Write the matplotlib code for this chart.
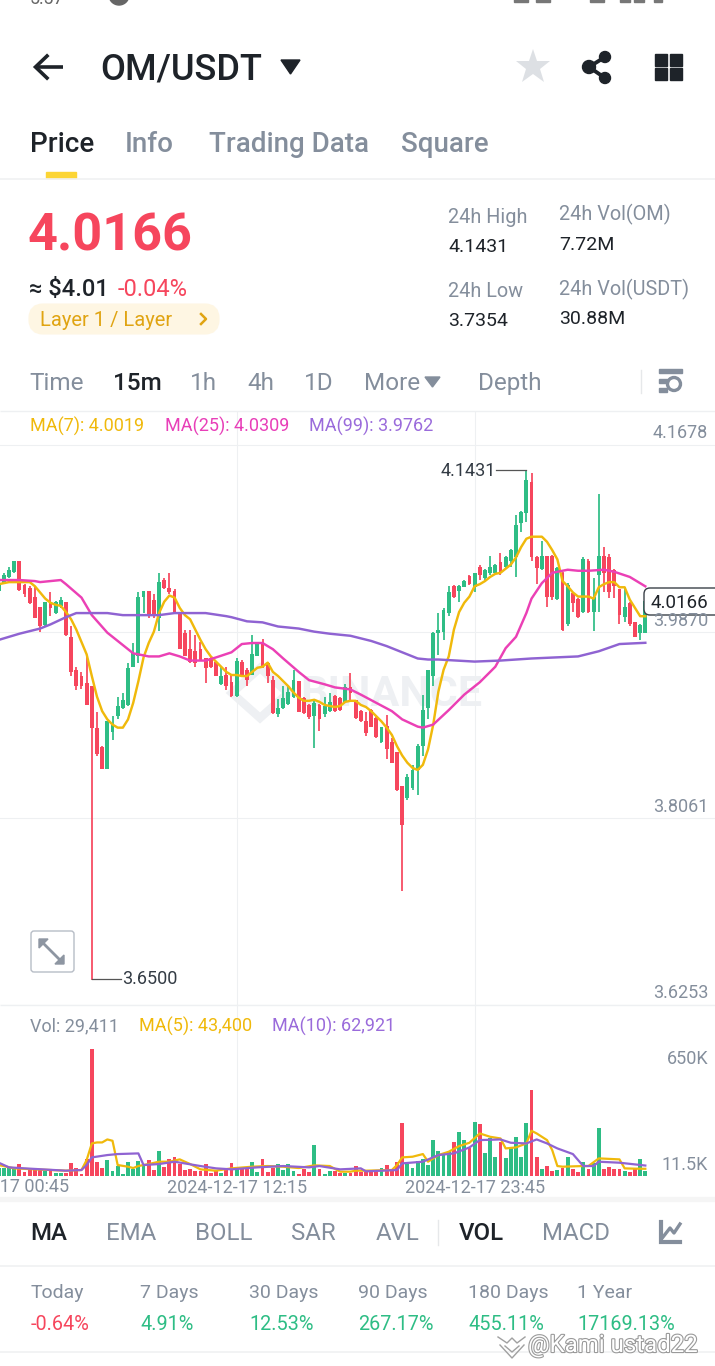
import matplotlib
matplotlib.use("Agg")
import matplotlib.pyplot as plt
import matplotlib.patheffects as pe
from matplotlib.patches import FancyBboxPatch, Rectangle, Polygon, Circle

plt.rcParams['font.family'] = ['Roboto', 'DejaVu Sans']

RED, GREEN = '#F6465D', '#2EBD85'
YEL, PINK, PUR = '#F0B90B', '#EB40B5', '#8F63D2'
DARK, GRAY = '#1E2329', '#848E9C'

highs = [4.035,4.044,4.050,4.055,4.055,4.033,4.031,4.030,4.011,4.016,4.025,4.017,4.021,4.016,3.992,3.953,3.948,3.963,3.934,3.909,
         3.876,3.900,3.905,3.924,3.928,3.957,3.976,4.025,4.026,4.026,4.023,4.044,4.039,4.044,4.028,4.005,3.989,3.989,3.984,3.977,
         3.961,3.963,3.959,3.953,3.953,3.945,3.961,3.960,3.952,3.984,3.976,3.980,3.958,3.944,3.922,3.934,3.935,3.950,3.939,3.924,
         3.917,3.922,3.917,3.924,3.928,3.926,3.924,3.936,3.947,3.921,3.911,3.909,3.912,3.904,3.895,3.906,3.884,3.870,3.837,3.849,
         3.858,3.878,3.926,3.950,3.987,4.005,4.010,4.031,4.032,4.032,4.037,4.042,4.044,4.052,4.048,4.060,4.053,4.063,4.060,4.067,
         4.100,4.104,4.1431,4.141,4.060,4.075,4.060,4.061,4.050,4.045,4.034,4.025,4.020,4.059,4.057,4.039,4.120,4.069,4.062,4.048,
         4.028,4.030,4.016,3.996,3.994,4.016]
lows = [4.025,4.034,4.039,4.044,4.026,4.021,4.014,4.000,3.987,3.992,4.002,4.004,4.010,3.983,3.944,3.930,3.931,3.916,3.650,3.867,
        3.854,3.854,3.882,3.902,3.912,3.915,3.953,3.957,4.005,4.000,4.000,3.988,4.028,4.023,4.004,3.970,3.963,3.957,3.953,3.959,
        3.937,3.952,3.944,3.935,3.930,3.924,3.924,3.945,3.934,3.945,3.963,3.952,3.937,3.907,3.904,3.912,3.916,3.923,3.909,3.907,
        3.902,3.874,3.891,3.904,3.909,3.909,3.910,3.918,3.919,3.902,3.899,3.886,3.895,3.884,3.879,3.864,3.860,3.833,3.7354,3.824,
        3.834,3.829,3.867,3.902,3.934,3.964,3.979,4.002,4.020,4.016,4.030,4.032,4.025,4.037,4.037,4.042,4.044,4.042,4.049,4.050,
        4.040,4.084,4.093,4.055,4.033,4.047,4.011,4.018,4.018,3.988,3.992,4.006,4.000,4.005,4.005,3.988,4.006,4.025,4.020,4.020,
        3.994,3.996,3.992,3.982,3.979,3.986]
opens = [4.026,4.034,4.040,4.045,4.055,4.032,4.029,4.021,4.011,3.993,4.015,4.005,4.012,4.016,3.982,3.950,3.944,3.937,3.934,3.894,
         3.875,3.854,3.890,3.905,3.913,3.916,3.953,3.963,4.021,4.026,4.018,4.000,4.037,4.029,4.026,4.005,3.986,3.970,3.968,3.970,
         3.961,3.961,3.958,3.936,3.945,3.938,3.925,3.958,3.950,3.945,3.963,3.977,3.957,3.940,3.907,3.913,3.917,3.924,3.939,3.923,
         3.916,3.905,3.916,3.907,3.910,3.925,3.923,3.919,3.933,3.921,3.910,3.900,3.911,3.903,3.880,3.896,3.880,3.870,3.837,3.826,
         3.836,3.853,3.876,3.913,3.944,3.986,3.987,4.005,4.031,4.026,4.030,4.041,4.030,4.050,4.039,4.044,4.044,4.054,4.050,4.055,
         4.059,4.092,4.102,4.132,4.059,4.048,4.060,4.060,4.019,4.044,3.994,4.024,4.019,4.006,4.055,4.006,4.042,4.060,4.059,4.047,
         4.028,4.001,4.015,3.996,3.986,3.986]
closes = [4.033,4.042,4.047,4.055,4.027,4.023,4.015,4.000,3.992,4.016,4.010,4.016,4.018,3.984,3.948,3.934,3.934,3.916,3.894,3.868,
          3.854,3.900,3.897,3.915,3.921,3.952,3.966,4.021,4.026,4.002,4.002,4.035,4.029,4.025,4.006,3.970,3.963,3.958,3.957,3.960,
          3.952,3.953,3.944,3.944,3.934,3.925,3.959,3.945,3.940,3.965,3.976,3.953,3.944,3.908,3.913,3.923,3.929,3.940,3.909,3.908,
          3.904,3.918,3.902,3.915,3.919,3.910,3.911,3.933,3.928,3.903,3.900,3.889,3.895,3.885,3.895,3.873,3.860,3.834,3.800,3.846,
          3.853,3.876,3.911,3.950,3.986,3.989,4.008,4.025,4.021,4.031,4.036,4.033,4.044,4.042,4.047,4.050,4.052,4.045,4.059,4.066,
          4.090,4.103,4.134,4.059,4.049,4.060,4.021,4.021,4.049,3.989,4.032,4.015,4.001,4.057,4.006,4.021,4.060,4.044,4.025,4.031,
          4.003,4.011,3.994,3.982,3.993,4.0166]
ma7 = [4.033,4.034,4.035,4.035,4.035,4.035,4.035,4.031,4.025,4.019,4.015,4.013,4.012,4.006,3.999,3.989,3.977,3.965,3.944,3.924,
       3.910,3.902,3.897,3.894,3.894,3.902,3.918,3.939,3.962,3.976,3.987,4.005,4.016,4.022,4.020,4.010,4.003,3.999,3.989,3.979,
       3.970,3.963,3.958,3.953,3.948,3.945,3.945,3.944,3.944,3.948,3.952,3.953,3.957,3.948,3.944,3.939,3.934,3.928,3.923,3.920,
       3.920,3.921,3.919,3.916,3.915,3.914,3.915,3.919,3.920,3.920,3.916,3.914,3.910,3.905,3.900,3.894,3.887,3.876,3.867,3.860,
       3.855,3.853,3.858,3.873,3.897,3.929,3.950,3.963,3.989,4.006,4.015,4.021,4.031,4.033,4.036,4.040,4.043,4.044,4.048,4.052,
       4.059,4.069,4.077,4.079,4.079,4.079,4.074,4.066,4.057,4.036,4.031,4.025,4.021,4.021,4.021,4.019,4.030,4.033,4.035,4.035,
       4.030,4.030,4.018,4.010,4.002,4.0019]
ma25_idx = [0,4,7,8,12,13,16,18,21,24,26,29,31,33,35,37,40,42,45,47,49,51,53,55,58,60,63,65,68,70,73,76,78,81,82,84,87,90,93,96,98,100,102,103,105,107,110,112,114,117,119,122,125]
ma25 = [4.037,4.037,4.036,4.035,4.037,4.033,4.020,4.003,3.986,3.974,3.966,3.963,3.963,3.966,3.963,3.959,3.959,3.962,3.967,3.975,3.976,3.976,3.970,3.961,3.948,3.940,3.936,3.933,3.931,3.926,3.918,3.910,3.902,3.895,3.894,3.897,3.911,3.926,3.938,3.953,3.971,3.982,4.005,4.019,4.034,4.044,4.047,4.046,4.046,4.047,4.045,4.040,4.0309]
ma99_idx = [0,4,8,10,13,15,18,21,24,27,31,34,38,40,44,45,48,51,54,58,61,64,68,72,75,78,81,83,85,92,97,103,112,116,120,125]
ma99 = [3.979,3.985,3.990,3.994,4.001,4.005,4.005,4.005,4.003,4.003,4.003,4.005,4.005,4.005,4.002,4.001,3.997,3.996,3.992,3.990,3.987,3.985,3.983,3.978,3.973,3.967,3.961,3.960,3.960,3.958,3.959,3.961,3.963,3.968,3.975,3.9762]
volumes = [46,46,46,46,70,22,40,40,36,32,30,16,16,20,80,46,12,100,766,82,
           50,96,32,60,12,84,40,92,66,96,36,150,56,100,116,72,36,40,30,30,
           72,16,30,20,50,76,40,40,42,84,22,100,24,46,70,36,72,32,12,40,
           24,184,40,12,28,30,16,16,20,60,26,26,26,26,46,64,36,86,320,72,
           48,92,100,66,216,152,136,152,202,266,216,166,326,310,136,226,116,206,106,166,
           236,112,316,520,116,40,60,32,36,46,112,44,24,86,44,76,290,40,56,44,
           44,28,24,48,104,29.411]
vma5_idx = [0,3,7,13,16,17,18,19,20,21,22,23,25,26,27,28,29,31,33,35,37,39,42,45,49,52,55,58,61,64,66,68,69,71,76,77,78,80,82,83,85,87,89,91,93,95,97,98,100,102,103,104,106,107,108,109,113,114,116,120,121,123,125]
vma5 = [66,46,40,32,36,96,196,202,202,220,212,66,56,48,60,66,72,86,86,100,72,40,32,46,56,60,56,48,64,60,26,26,32,32,36,66,112,116,132,86,126,146,180,200,256,236,226,166,172,196,272,256,216,156,60,56,60,60,106,100,46,44,43.4]
vma10_idx = [0,2,5,13,16,17,18,21,23,27,28,31,34,39,42,45,50,55,60,62,66,70,71,77,78,82,85,88,91,93,97,99,102,104,106,108,111,113,115,116,120,125]
vma10 = [80,52,46,32,36,66,112,126,132,136,66,72,86,60,46,40,52,60,52,60,40,46,28,36,76,86,126,136,172,216,220,200,196,220,196,166,132,60,60,86,80,62.921]

price_ticks = [4.1678, 3.987, 3.8061, 3.6253]
price_tick_labels = ['4.1678', '3.9870', '3.8061', '3.6253']
date_idx = [46, 92]
date_labels = ['2024-12-17 12:15', '2024-12-17 23:45']

W, H = 715, 1366
fig = plt.figure(figsize=(W/100, H/100), dpi=100, facecolor='white')
def rect(t, b):
    return [0, 1-b/H, 1, (b-t)/H]

bg = fig.add_axes([0,0,1,1], zorder=0); bg.set_xlim(0,W); bg.set_ylim(H,0); bg.axis('off')
ui = fig.add_axes([0,0,1,1], zorder=3); ui.set_xlim(0,W); ui.set_ylim(H,0); ui.axis('off'); ui.patch.set_alpha(0)

x_lim = (0.251, 138.47)
ax = fig.add_axes(rect(412,1005), zorder=1); ax.patch.set_alpha(0)
av = fig.add_axes(rect(1005,1176), zorder=1); av.patch.set_alpha(0)

xs = list(range(len(closes)))
cols = [GREEN if c >= o else RED for o, c in zip(opens, closes)]
ax.vlines(xs, lows, highs, colors=cols, lw=1.25, zorder=3)
ax.bar(xs, [max(abs(c-o),0.001) for o,c in zip(opens,closes)], bottom=[min(o,c) for o,c in zip(opens,closes)],
       width=0.74, color=cols, zorder=3, lw=0)
ax.plot(xs, ma7, color=YEL, lw=1.75, zorder=4)
ax.plot(ma25_idx, ma25, color=PINK, lw=1.75, zorder=4)
ax.plot(ma99_idx, ma99, color=PUR, lw=1.75, zorder=4)
ax.set_xlim(*x_lim); ax.set_ylim(3.6263, 4.1998)
ax.set_yticks(price_ticks); ax.set_xticks(date_idx)
ax.grid(True, color='#EEF0F2', lw=0.8, zorder=0)
ax.tick_params(length=0, labelleft=False, labelbottom=False)
for s in ax.spines.values(): s.set_visible(False)

av.bar(xs, volumes, width=0.74, color=cols, lw=0, zorder=3)
av.plot(vma5_idx, vma5, color=YEL, lw=1.6, zorder=4)
av.plot(vma10_idx, vma10, color=PUR, lw=1.6, zorder=4)
av.set_xlim(*x_lim); av.set_ylim(0, 1029)
av.set_xticks(date_idx); av.set_xticklabels(date_labels, fontsize=13, color=GRAY)
av.set_yticks([])
av.grid(True, axis='x', color='#EEF0F2', lw=0.8, zorder=0)
av.tick_params(length=0, pad=2)
for s in av.spines.values(): s.set_visible(False)
av.text(0, -0.062, '2024-12-17 00:45', transform=av.get_xaxis_transform(), ha='center', va='center', fontsize=13, color=GRAY)

def T(x, y, s, size, color=GRAY, ha='left', weight='normal', a=ui, **k):
    return a.text(x, y+1.5, s, fontsize=size, color=color, ha=ha, va='center', fontweight=weight, **k)
def hline(y, c='#EEF0F2', lw=1.0, x0=0, x1=W):
    bg.plot([x0,x1],[y,y],color=c,lw=lw,solid_capstyle='butt')

# status bar remnants
T(30, -3, '5:57', 13, '#666666', a=bg)
bg.add_patch(Circle((119,-5), 10, color='#666666'))
for x0,w in [(514,14),(536,14),(590,14),(620,10),(634,10),(654,8)]:
    bg.add_patch(Rectangle((x0,-4), w, 6, color='#777777'))

# header
ui.plot([36,63],[67,67],color=DARK,lw=2.6,solid_capstyle='butt')
ui.plot([47,35.5,47],[56,67,78],color=DARK,lw=2.6,solid_joinstyle='miter')
T(100,69,'OM/USDT',26,DARK,weight='medium')
ui.add_patch(Polygon([[281,60],[300,60],[290.5,74]],color=DARK))
ui.plot([533],[67],marker='*',ms=26,color='#DDE0E4',mew=0)
sh=[(605,57),(589,67),(605,78)]
ui.plot([s[0] for s in sh],[s[1] for s in sh],color=DARK,lw=2.8)
for s,r in zip(sh,(5.5,6.5,5.5)): ui.add_patch(Circle(s,r,color=DARK))
for x0,y0 in [(655,54),(670,54),(655,68),(670,68)]:
    ui.add_patch(Rectangle((x0,y0),12,12,color=DARK))
T(30,143,'Price',20,DARK,weight='medium')
T(125,143,'Info',20,weight='medium'); T(209,143,'Trading Data',20,weight='medium'); T(401,143,'Square',20,weight='medium')
bg.add_patch(Rectangle((46,172),30,6,color='#FCD535'))
hline(179,'#F0F1F2',1.2)

# ticker
T(28,235,'4.0166',37.5,RED,weight='bold')
T(29,288,'≈ $4.01',17,DARK,weight='medium')
T(118,288,'-0.04%',17,RED)
bg.add_patch(FancyBboxPatch((34,309),180,20,boxstyle='round,pad=0,rounding_size=9',mutation_aspect=1,fc='#FEF6E3',ec='#FEF6E3',lw=8))
T(40,319,'Layer 1 / Layer',14.5,'#E0A412')
ui.plot([201,206,201],[314,319,324],color='#E0A412',lw=1.8)
T(448,216,'24h High',14.3); T(448,245,'4.1431',14,DARK)
T(559,213,'24h Vol(OM)',14.3); T(559,244,'7.72M',14,DARK)
T(448,290,'24h Low',14.3); T(448,319,'3.7354',14,DARK)
T(559,288,'24h Vol(USDT)',14.3); T(559,317,'30.88M',14,DARK)

for x,s in [(29,'Time'),(190,'1h'),(247,'4h'),(304,'1D'),(364,'More'),(478,'Depth')]:
    T(x,382,s,17.5)
T(113,382,'15m',17.5,DARK,weight='medium')
ui.add_patch(Polygon([[425,377],[440,377],[432.5,387]],color=GRAY))
bg.plot([641,641],[370,393],color='#E6E8EA',lw=1)
ui.add_patch(Rectangle((659,369),23,3.5,color=GRAY))
ui.add_patch(Rectangle((659,379),8,3.5,color=GRAY)); ui.add_patch(Rectangle((659,388),8,3.5,color=GRAY))
ui.add_patch(Circle((674,384),6.5,fc='white',ec=GRAY,lw=2.4))
hline(411)

# chart legends and labels
T(30,425,'MA(7): 4.0019',13,YEL); T(165,425,'MA(25): 4.0309',13,'#E83FB8'); T(309,425,'MA(99): 3.9762',13,'#9A6BDB')
for y,s in zip([432,619,805,992],price_tick_labels):
    T(708,y,s,13,ha='right')
hline(1005)
T(441,469,'4.1431',13,'#333B44'); ui.plot([496,526],[470,470],color='#555',lw=0.9)
T(122,978,'3.6500',13,'#333B44'); ui.plot([92,121],[979,979],color='#555',lw=0.9)
ui.add_patch(FancyBboxPatch((644,588),80,27,boxstyle='round,pad=0,rounding_size=6',fc='white',ec='#3A4048',lw=1.0,clip_on=True))
T(651,601,'4.0166',13.5,DARK)
ui.add_patch(FancyBboxPatch((31,931),43,41,boxstyle='round,pad=0,rounding_size=3',fc='white',ec='#B7BDC6',lw=1))
ui.plot([41,62],[941,962],color='#8E96A2',lw=2)
ui.add_patch(Polygon([[39,939],[48,939],[39,948]],color='#8E96A2'))
ui.add_patch(Polygon([[64,964],[55,964],[64,955]],color='#8E96A2'))

# watermark in chart
T(300,693,'BINANCE',31,'#EEF0F3',a=bg,weight='bold')
bg.add_patch(Polygon([[260,668],[288,693],[260,718],[232,693]],fc='none',ec='#EEF0F3',lw=6))

T(30,1025,'Vol: 29,411',13); T(139,1025,'MA(5): 43,400',13,YEL); T(272,1025,'MA(10): 62,921',13,'#9A6BDB')
T(708,1057,'650K',13,ha='right'); T(708,1163,'11.5K',13,ha='right')

bg.add_patch(Rectangle((0,1197),W,4,color='#F5F5F5'))
for x,s in [(106,'EMA'),(195,'BOLL'),(291,'SAR'),(376,'AVL'),(542,'MACD')]:
    T(x,1232,s,17.3)
T(30,1232,'MA',17.3,DARK,weight='medium'); T(459,1232,'VOL',17.3,DARK,weight='medium')
bg.plot([438,438],[1220,1245],color='#E6E8EA',lw=1)
ui.plot([661,661,680],[1222,1242,1242],color=GRAY,lw=3,solid_joinstyle='miter')
ui.plot([663,670,674,680],[1237,1228,1233,1224],color=GRAY,lw=2.4)
hline(1266,'#F0F1F2',1.2)

for x,s in [(31,'Today'),(140,'7 Days'),(249,'30 Days'),(358,'90 Days'),(468,'180 Days'),(577,'1 Year')]:
    T(x,1291,s,14)
T(31,1323,'-0.64%',14.3,RED)
for x,s in [(140,'4.91%'),(249,'12.53%'),(358,'267.17%'),(468,'455.11%'),(577,'17169.13%')]:
    T(x,1323,s,14.3,GREEN)
hline(1352,'#F0F1F2',1.2)

stroke=[pe.withStroke(linewidth=1.6,foreground='#9A9A9A')]
t=T(528,1344,'@Kami ustad22',17.3,'white'); t.set_path_effects(stroke)
ui.plot([498,507,512,517,525],[1337,1343,1338,1343,1337],color='#A0A0A0',lw=1)
ui.plot([500,512,524],[1345,1358,1345],color='#A0A0A0',lw=1)
ui.plot([505,512,519],[1346,1352,1346],color='#A0A0A0',lw=1)

fig.savefig('out.png', dpi=100, facecolor='white')
